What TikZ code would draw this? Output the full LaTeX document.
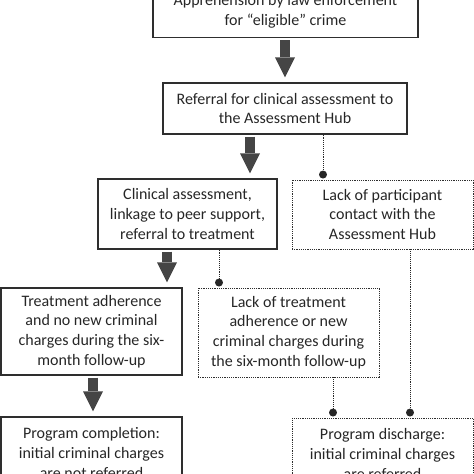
\documentclass[tikz,border=0pt]{standalone}
\usepackage{fontspec}
\setmainfont{Carlito}
\usetikzlibrary{arrows.meta}
\definecolor{boxline}{HTML}{2E2E2E}
\definecolor{arrowgrey}{HTML}{454545}
\tikzset{stepbox/.style={draw=boxline, line width=1.2pt, align=center, inner sep=0pt,
		text=black!85, font=\fontsize{16}{19.6}\selectfont}}
\tikzset{dotbox/.style={stepbox, densely dotted, line width=0.9pt}}
\tikzset{fatarrow/.style={draw=arrowgrey, line width=10pt, shorten <=2pt, shorten >=5pt,
		-{Triangle[width=20pt, length=20pt, line width=0pt]}}}
\tikzset{dotlink/.style={draw=black!85, densely dotted, line width=0.9pt, shorten >=1pt,
		-{Circle[length=8pt, line width=0pt]}}}
\begin{document}
\begin{tikzpicture}[x=1pt, y=-1pt]
			\useasboundingbox (0,0) rectangle (474,474);
			% boxes
			\node [stepbox, minimum width=265pt, minimum height=52pt] (appr) at (285.5, 11.5) {Apprehension by law enforcement\\for “eligible” crime};
			\node [stepbox, minimum width=244pt, minimum height=51pt] (refer) at (285, 108.5) {Referral for clinical assessment to\\the Assessment Hub};
			\node [stepbox, minimum width=179pt, minimum height=70pt] (clin) at (187.5, 214) {Clinical assessment,\\linkage to peer support,\\referral to treatment};
			\node [dotbox, minimum width=181pt, minimum height=69pt] (nocont) at (382.5, 214.5) {Lack of participant\\contact with the\\Assessment Hub};
			\node [stepbox, minimum width=181pt, minimum height=87pt] (adher) at (91.5, 331.5) {Treatment adherence\\and no new criminal\\charges during the six-\\month follow-up};
			\node [dotbox, minimum width=181pt, minimum height=89pt] (noadher) at (288.5, 332.5) {Lack of treatment\\adherence or new\\criminal charges during\\the six-month follow-up};
			\node [stepbox, minimum width=181pt, minimum height=72pt] (compl) at (91.5, 453) {Program completion:\\initial criminal charges\\are not referred};
			\node [dotbox, minimum width=181pt, minimum height=72pt] (disch) at (382.5, 454) {Program discharge:\\initial criminal charges\\are referred};
		
			% arrows
			\draw [fatarrow] (appr.south -| 285,0) -- (refer.north -| 285,0);
			\draw [fatarrow] (refer.south -| 250,0) -- (clin.north -| 250,0);
			\draw [fatarrow] (clin.south -| 167,0) -- (adher.north -| 167,0);
			\draw [fatarrow] (adher.south -| 93,0) -- (compl.north -| 93,0);
		
			\draw [dotlink] (refer.south -| 323,0) -- (nocont.north -| 323,0);
			\draw [dotlink] (clin.south -| 219,0) -- (noadher.north -| 219,0);
			\draw [dotlink] (nocont.south -| 410,0) -- (disch.north -| 410,0);
			\draw [dotlink] (noadher.south -| 333,0) -- (disch.north -| 333,0);
		\end{tikzpicture}
\end{document}
